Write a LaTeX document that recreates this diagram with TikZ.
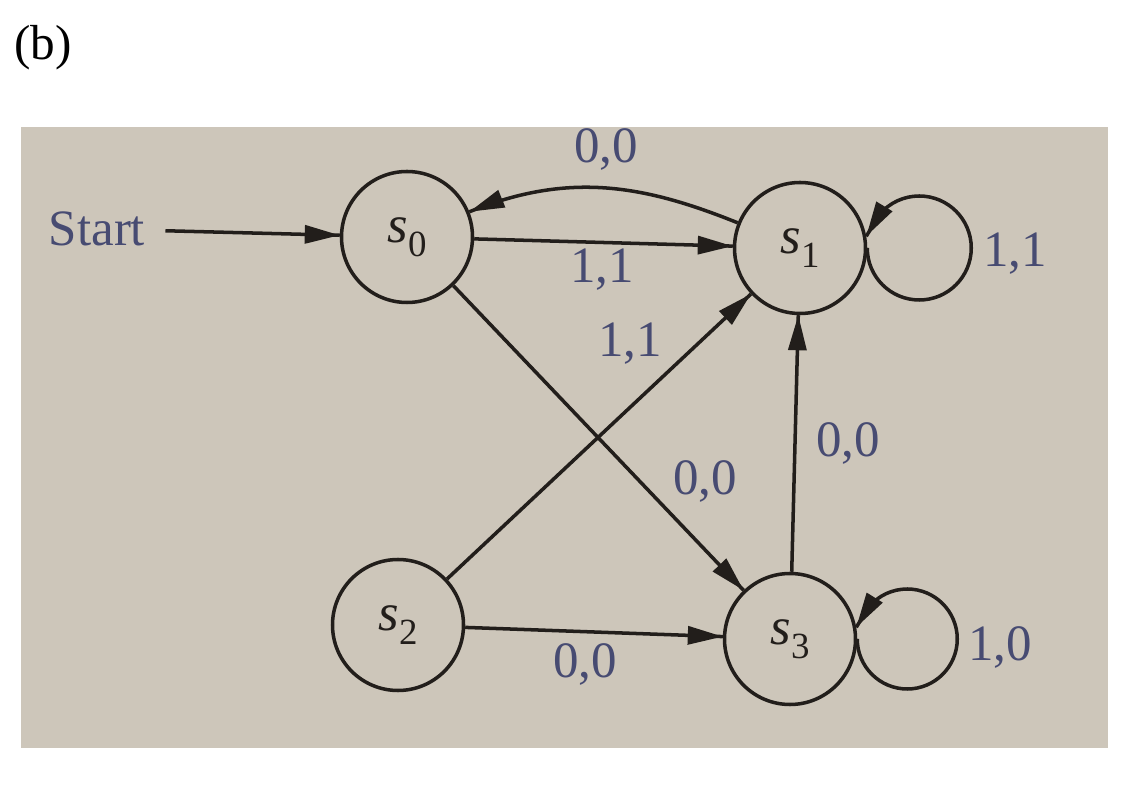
\documentclass[tikz,border=0pt]{standalone}
\usepackage{fontspec}
\setmainfont{Liberation Serif}
\usetikzlibrary{arrows.meta}
\usetikzlibrary{decorations.markings}
\usetikzlibrary{positioning}
\definecolor{paper}{HTML}{CDC6BA}
\definecolor{ink}{HTML}{221E1B}
\definecolor{bluish}{HTML}{474B72}
\tikzset{->/.style = {decoration={markings,
                                  mark=at position 1 with {\arrow{Triangle[length=0.7cm,width=0.36cm]}}},
                      postaction={decorate}}}
\tikzset{statenode/.style = {circle, draw=ink, line width=2pt, minimum size=2.62cm, inner sep=0pt,
                             text=ink, font=\rmfamily\fontsize{30}{34}\selectfont\itshape},
         lbl/.style = {text=bluish, inner sep=0pt, font=\rmfamily\fontsize{29}{33}\selectfont},
         trans/.style = {draw=ink, color=ink, line width=2pt}}
\newcommand{\stname}[2]{#1\raisebox{-8pt}{\upshape\fontsize{21}{24}\selectfont #2}}

\begin{document}
\begin{tikzpicture}
		\useasboundingbox (0,0) rectangle (22.6,15.76);
		\fill [paper] (0.42,0.8) rectangle (22.16,13.22);
		\node [font=\rmfamily\fontsize{28}{32}\selectfont] (b) at (0.86,14.8) {(b)};
		\node [lbl] (start) at (1.94,11.18) {Start};
		\node [statenode] (s0) at (8.14,11.02) {\stname{s}{0}};
		\node [statenode] (s1) at (16.0,10.8) {\stname{s}{1}};
		\node [statenode] (s2) at (7.96,3.26) {\stname{s}{2}};
		\node [statenode] (s3) at (15.8,2.98) {\stname{s}{3}};
		\node [lbl] (l10) at (12.12,12.78) {0,0};
		\node [lbl] (l01) at (12.04,10.36) {1,1};
		\node [lbl] (l21) at (12.6,8.88) {1,1};
		\node [lbl] (l03) at (14.1,6.14) {0,0};
		\node [lbl] (l31) at (16.96,6.9) {0,0};
		\node [lbl] (l23) at (11.7,2.48) {0,0};
		\node [lbl] (l11) at (20.3,10.68) {1,1};
		\node [lbl] (l33) at (20.0,2.82) {1,0};
		\draw [trans, ->, shorten <=0.4cm] (start) to (s0);
		\draw [trans, ->] (s1) to [out=158, in=22] (s0);
		\draw [trans, ->] (s0) to (s1);
		\draw [trans, ->] (s0) to (s3);
		\draw [trans, ->] (s2) to (s1);
		\draw [trans, ->] (s2) to (s3);
		\draw [trans, ->] (s3) to (s1);
		% self loops
		\draw [trans, ->] (s1.east) arc [start angle=180, end angle=500, radius=1.04] -- (s1.10);
		\draw [trans, ->] (s3.east) arc [start angle=180, end angle=500, radius=1.0] -- (s3.10);
\end{tikzpicture}
\end{document}
